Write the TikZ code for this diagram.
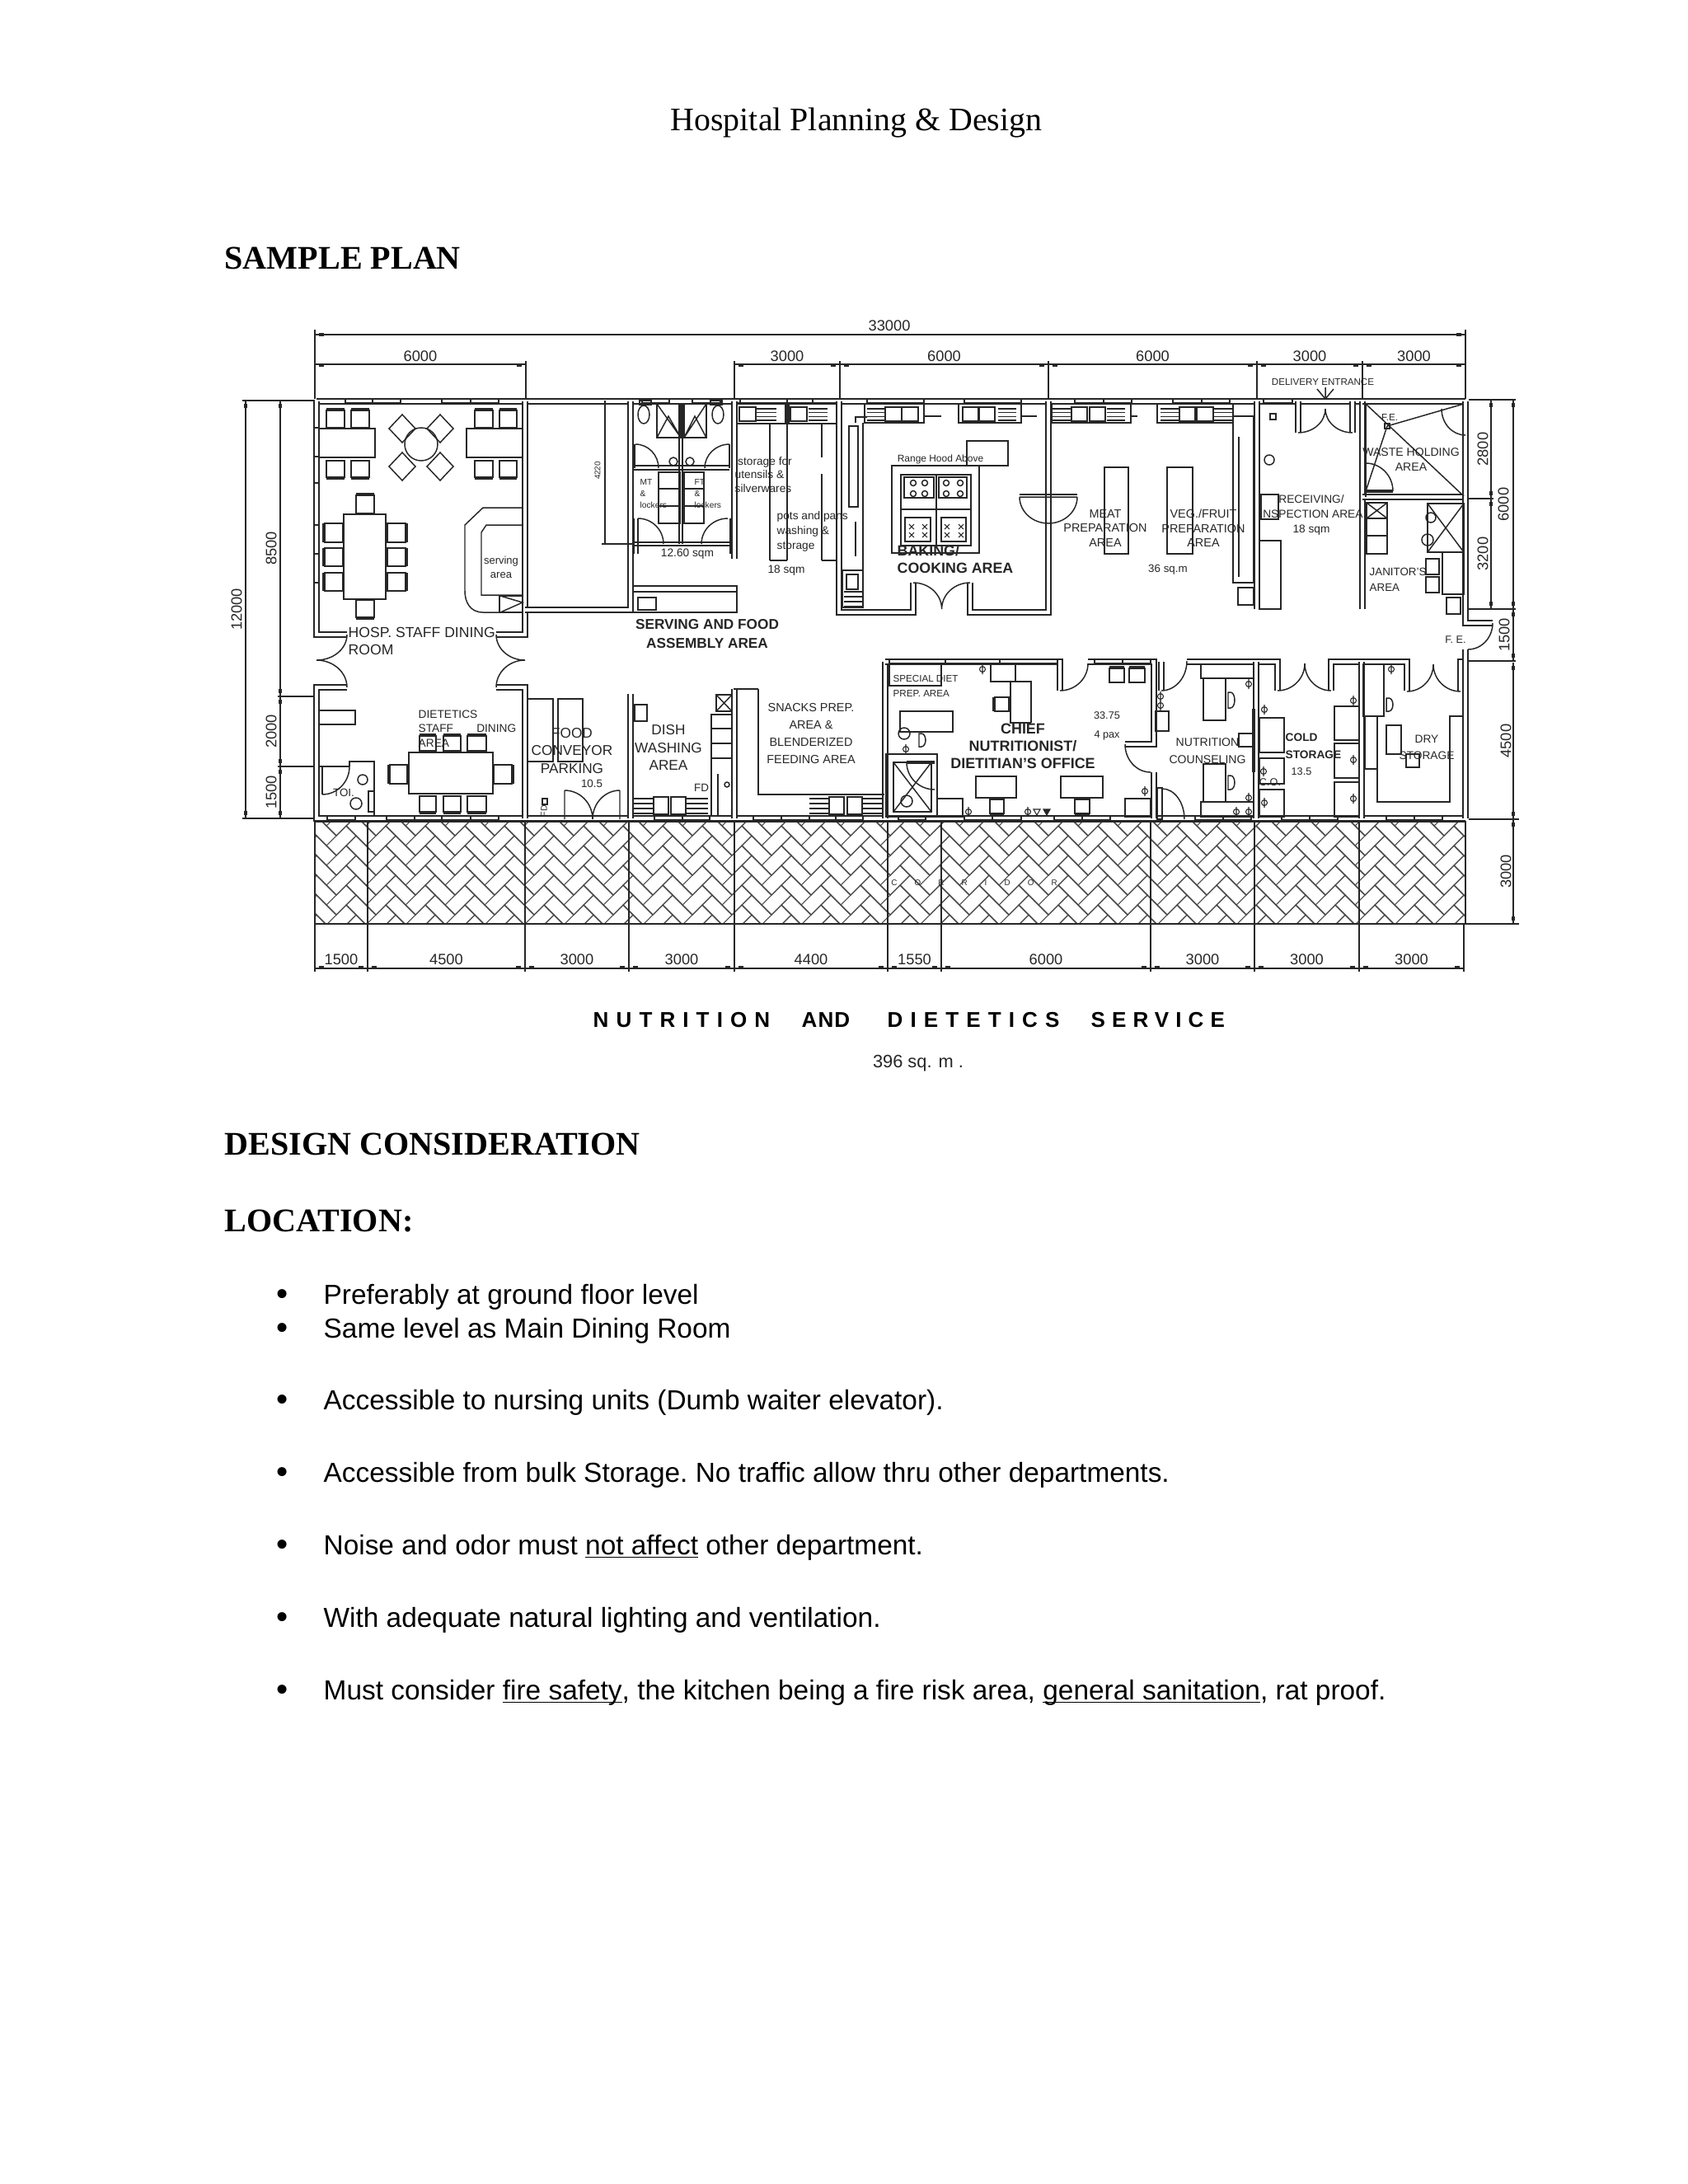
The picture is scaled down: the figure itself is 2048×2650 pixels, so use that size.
\documentclass[tikz,border=0pt]{standalone}
\usepackage{fontspec}
\setmainfont{Liberation Serif}
\setsansfont{Liberation Sans}
\definecolor{ink}{HTML}{262626}
\newsavebox\rulebox
\newcommand{\underrule}[1]{\sbox\rulebox{#1}\rlap{\rule[-1.2pt]{\wd\rulebox}{0.42pt}}\usebox\rulebox}
\newcommand{\itemdot}{\makebox[16.2pt][l]{\raisebox{-0.4pt}{\fontsize{11.5}{12}\selectfont\textbullet}}}
\tikzset{
  wall/.style={draw=ink,line width=0.48pt,double=white,double distance=1.35pt},
  fix/.style={draw=ink,line width=0.42pt},
  thin line/.style={draw=ink,line width=0.3pt},
  brick/.style={draw=ink!85,line width=0.31pt},
  dimline/.style={draw=ink,line width=0.4pt},
  dimtick/.style={draw=ink,line width=1pt},
  tag/.style args={#1/#2}{font=\sffamily\fontsize{#1}{#2}\selectfont,text=ink,align=center},
  boldtag/.style args={#1/#2}{font=\sffamily\bfseries\fontsize{#1}{#2}\selectfont,text=ink,align=center},
  heading/.style={font=\rmfamily\bfseries\fontsize{11.4}{13}\selectfont,anchor=base west},
  bodyline/.style={font=\sffamily\fontsize{9.5}{11}\selectfont\frenchspacing,anchor=base west},
  spaced/.style={font=\sffamily\bfseries\fontsize{7.4}{9}\selectfont\addfontfeature{LetterSpace=#1},anchor=west}
}
\begin{document}
\begin{tikzpicture}[x=0.01cm,y=0.01cm]
    \tikzstyle{every node}+=[inner sep=0pt]
    \useasboundingbox (0,0) rectangle (2048,-2650);
    \draw (1039,-149) node [font=\rmfamily\fontsize{11.33}{13}\selectfont] (pagetitle) {Hospital Planning \& Design};
    \draw (272,-326) node [heading] (sampleplan) {SAMPLE PLAN};
    \begin{scope}
        \clip (382,-997) rectangle (1778,-1121);
        \foreach \i in {0,...,31}
            \foreach \j in {0,...,8}
                \draw [brick,shift={({324+48*\i},{-954-24*\j})}] (0,0) -- (24,-24) -- (36,-12) -- (12,12) -- cycle (24,-24) -- (36,-36) -- (60,-12) -- (48,0) -- cycle;
    \end{scope}
    \draw [fix] (382,-997) rectangle (1778,-1121);
    \foreach \xa in {446,637,763,891,1077,1142,1396,1522,1649}
        \draw [dimline] (\xa,-997) -- (\xa,-1179);
    \foreach \xa in {382,1776}
        \draw [dimline] (\xa,-1121) -- (\xa,-1179);
    \foreach \xa/\xb/\len in {382/446/1500,446/637/4500,637/763/3000,763/891/3000,891/1077/4400,1077/1142/1550,1142/1396/6000,1396/1522/3000,1522/1649/3000,1649/1776/3000} {
        \draw [dimline] (\xa,-1175) -- (\xb,-1175);
        \draw [dimtick] ({\xa+5},-1174) -- ({\xa+11},-1174) ({\xb-11},-1174) -- ({\xb-5},-1174);
        \draw ({(\xa+\xb)/2},-1164) node [tag=5.2/6] {\len};
    }
    \foreach \xa/\xb/\len in {382/638/6000,891/1019/3000,1019/1272/6000,1272/1525/6000,1525/1653/3000,1653/1778/3000} {
        \draw [dimline] (\xa,-442) -- (\xb,-442);
        \draw [dimtick] ({\xa+5},-443) -- ({\xa+11},-443) ({\xb-11},-443) -- ({\xb-5},-443);
        \draw ({(\xa+\xb)/2},-432) node [tag=5.2/6] {\len};
    }
    \foreach \xa in {638,891,1019,1272,1525,1653}
        \draw [dimline] (\xa,-438) -- (\xa,-484);
    \draw [dimline] (382,-400) -- (382,-484) (1778,-400) -- (1778,-484) (382,-406) -- (1778,-406);
    \draw [dimtick] (387,-406) -- (393,-406) (1767,-406) -- (1773,-406);
    \draw (1079,-395) node [tag=5.2/6] (overall) {33000};
    \foreach \xa/\ya/\yb/\len/\xt in {298/486/993/12000/287,340/486/845/8500/329,340/845/930/2000/329,340/930/993/1500/329,1809/485/605/2800/1799,1809/605/739/3200/1799,1836/485/739/6000/1824,1836/739/802/1500/1825,1836/804/994/4500/1827,1836/994/1121/3000/1827} {
        \draw [dimline] (\xa,-\ya) -- (\xa,-\yb);
        \draw [dimtick] (\xa,{-\ya-4}) -- (\xa,{-\ya-9}) (\xa,{-\yb+4}) -- (\xa,{-\yb+9});
        \draw (\xt,{-(\ya+\yb)/2}) node [tag=5.2/6,rotate=90] {\len};
    }
    \foreach \xa/\ya/\xb in {294/486/382,337/845/381,337/930/381,294/993/382,1782/485/1839,1782/605/1812,1782/739/1839,1782/802/1839,1782/994/1843,1778/1121/1843}
        \draw [dimline] (\xa,-\ya) -- (\xb,-\ya);
    \draw [wall] (384,-487) -- (1778,-487);
    \draw [wall] (421,-770) -- (384,-770) -- (384,-487);
    \draw [wall] (602,-770) -- (637,-770) -- (637,-487);
    \draw [wall] (637,-740) -- (765,-740) -- (765,-487);
    \draw [wall] (421,-834) -- (384,-834) -- (384,-993) -- (1778,-993);
    \draw [wall] (602,-834) -- (637,-834) -- (637,-993);
    \draw [wall] (765,-842) -- (765,-993);
    \draw [wall] (891,-836) -- (891,-993);
    \draw [wall] (1074,-803) -- (1074,-993);
    \draw [wall] (1286,-838) -- (1286,-803) -- (1074,-803);
    \draw [wall] (1320,-803) -- (1400,-803) -- (1400,-903) -- (1365,-903);
    \draw [wall] (1400,-937) -- (1400,-993);
    \draw [wall] (1409,-838) -- (1409,-803);
    \draw [wall] (1440,-803) -- (1550,-803) -- (1550,-838);
    \draw [wall] (1524,-803) -- (1524,-993);
    \draw [wall] (1615,-838) -- (1615,-803) -- (1707,-803) -- (1707,-838);
    \draw [wall] (1652,-803) -- (1652,-993);
    \draw [wall] (1772,-838) -- (1772,-803) -- (1778,-803);
    \draw [wall] (1778,-788) -- (1778,-993);
    \draw [wall] (891,-487) -- (891,-678);
    \draw [wall] (1018,-487) -- (1018,-743) -- (1108,-743) -- (1108,-707);
    \draw [wall] (1177,-707) -- (1177,-743) -- (1272,-743) -- (1272,-487);
    \draw [wall] (1525,-487) -- (1525,-739);
    \draw [wall] (1653,-487) -- (1653,-739);
    \draw [wall] (1653,-603) -- (1778,-603);
    \draw [wall] (1778,-487) -- (1778,-756) -- (1811,-756);
    \draw [wall] (1575,-525) -- (1575,-487) (1641,-525) -- (1641,-487);
    \draw [fix] (769,-565) -- (885,-565) (769,-570) -- (885,-570) (770,-658) -- (885,-658) (770,-662) -- (885,-662);
    \draw [fix] (824,-490) -- (824,-660) (828,-490) -- (828,-660);
    \draw [fix] (770,-539) -- (770,-568) (885,-539) -- (885,-568) (769,-629) -- (769,-672) (774,-629) -- (774,-672) (886,-629) -- (886,-672);
    \foreach \xa/\ya/\xb in {419/484/452,452/484/486,536/484/571,571/484/605,779/484/812,840/484/874,898/484/955,955/484/986,1052/484/1121,1170/484/1239,1304/484/1339,1339/484/1373,1423/484/1458,1458/484/1492,1533/484/1568,397/990/431,469/990/503,503/990/536,536/990/571,571/990/605,794/990/828,828/990/861,914/990/948,948/990/982,982/990/1014,1014/990/1047,1090/990/1123,1170/990/1204,1204/990/1239,1279/990/1313,1313/990/1347,1450/990/1484,1484/990/1518,1555/990/1589,1589/990/1623,1682/990/1716,1716/990/1750,1079/800/1147,1147/800/1213,1213/800/1283,1328/800/1362,1362/800/1396}
        \draw [fix] (\xa,-\ya) rectangle (\xb,{-\ya-5});
    \foreach \ya/\yb in {519/554,554/586,637/672,672/707}
        \draw [fix] (381,-\ya) rectangle (387,-\yb);
    \foreach \xa/\ya/\xb/\yb in {387/520/455/555,396/498/418/519,426/498/448/519,396/559/418/579,426/559/448/579,566/520/634/555,576/498/598/519,606/498/627/519,576/559/598/579,606/559/627/579,417/624/468/727,432/601/454/623,432/728/454/749,394/635/416/658,394/665/416/687,394/695/416/717,470/635/492/658,470/665/492/687,470/695/492/717,606/723/634/743,387/862/431/879,496/913/598/963,509/893/529/911,538/893/559/911,567/893/590/911,509/966/529/985,538/966/559/985,567/966/590/985,473/928/494/951,599/928/621/951,640/848/671/924,677/848/707/924,797/490/826/531,830/490/857/531,799/573/825/593,799/593/825/614,799/614/825/635,830/573/854/593,830/593/854/614,830/614/854/635,776/486/790/491,862/486/876/491,768/711/894/743,774/725/796/740,894/489/953/514,957/489/1015/514,897/494/917/511,959/494/979/511,1049/490/1121/513,1163/490/1239/513,1276/490/1372/513,1404/490/1496/513,1074/494/1094/511,1094/494/1114/511,1168/494/1187/511,1188/494/1207/511,1300/494/1319/511,1322/494/1341/511,1431/494/1450/511,1452/494/1472/511,793/967/811/988,814/967/832/988,1006/967/1024/988,1028/967/1046/988,1022/692/1047/737,1027/697/1041/715,1082/565/1188/671,1093/576/1136/618,1136/576/1178/618,1093/618/1136/662,1136/618/1178/662,1097/579/1133/604,1139/579/1173/604,1098/628/1129/657,1142/628/1172/657,1173/535/1223/565,1340/567/1369/672,1416/567/1447/672,1496/505/1521/707,1502/713/1521/734,1528/656/1554/739,770/855/785/875,869/843/888/863,863/867/888/920,863/884/888/902,1530/600/1551/630,1658/610/1683/629,1658/629/1683/650,1658/650/1683/672,1732/611/1776/670,1730/678/1746/697,1730/700/1746/719,1750/670/1776/721,1755/725/1772/745,1541/502/1548/509,1079/806/1142/832,1092/863/1156/888,1207/846/1224/863,1184/942/1233/968,1287/942/1338/968,1201/970/1218/987,1304/970/1322/987,1137/969/1168/991,1365/969/1396/991,1346/811/1364/828,1370/811/1389/828,1402/863/1418/887,1457/806/1521/823,1460/823/1487/874,1457/973/1521/991,1460/927/1487/973,1503/890/1520/906,1528/871/1558/913,1528/920/1558/951,1528/958/1558/991,1619/857/1649/898,1619/902/1649/944,1619/949/1649/991,1654/806/1679/869,1656/869/1671/933,1682/880/1700/915,1706/915/1722/931,1075/915/1137/991,1084/925/1130/985,1030/517/1041/615}
        \draw [fix] (\xa,-\ya) rectangle (\xb,-\yb);
    \foreach \xa/\xb/\ya in {396/418/496,426/448/496,576/598/496,606/627/496,396/418/581,426/448/581,576/598/581,606/627/581,432/454/599,432/454/751,509/529/891,538/559/891,567/590/891,509/529/987,538/559/987,567/590/987,1346/1364/809,1370/1389/809,1201/1218/989,1304/1322/989}
        \draw [thin line] (\xa,-\ya) -- (\xb,-\ya);
    \foreach \xa/\ya/\yb in {392/635/658,392/665/687,392/695/717,494/635/658,494/665/687,494/695/717,471/928/951,623/928/951,1205/846/863}
        \draw [thin line] (\xa,-\ya) -- (\xa,-\yb);
    \foreach \xa/\xb/\ya/\yb in {918/942/496/510,981/1004/496/510,1052/1074/496/510,1211/1233/496/510,1276/1299/496/510,1343/1365/496/510,1408/1430/496/510,1472/1496/496/510,769/793/969/987,833/859/969/987,982/1006/969/987,1047/1072/969/987,1024/1046/718/736}
        \foreach \k in {0,1,2,3}
            \draw [thin line] (\xa,{-\ya-(\yb-\ya)*\k/3}) -- (\xb,{-\ya-(\yb-\ya)*\k/3});
    \draw [fix] (768,-718) -- (894,-718);
    \draw [fix] (934,-514) -- (934,-680) (955,-489) -- (955,-680) (934,-680) -- (955,-680);
    \draw [fix] (997,-514) -- (997,-555) (997,-575) -- (997,-680) (997,-680) -- (1015,-680);
    \draw [fix] (1038,-513) -- (1038,-506) -- (1052,-506) (1047,-513) -- (1047,-737) (1038,-633) -- (1038,-675);
    \draw [fix] (1121,-505) -- (1142,-505) (1239,-505) -- (1258,-505) (1373,-505) -- (1380,-505);
    \draw [fix] (1503,-530) -- (1503,-700);
    \draw [fix] (1653,-490) -- (1657,-490) (1657,-490) -- (1657,-603);
    \draw [fix] (1657,-490) -- (1776,-602) (1657,-596) -- (1683,-517) -- (1776,-490);
    \draw [fix] (1680,-514) rectangle (1686,-520);
    \draw [fix] (797,-490) -- (826,-531) (797,-531) -- (811,-505) -- (826,-531) (857,-490) -- (830,-531) (857,-531) -- (843,-505) -- (830,-531);
    \draw [dimtick] (1657,-596) -- (1690,-596);
    \draw [fix] (586,-743) .. controls (570,-743) and (564,-730) .. (564,-717) -- (564,-637) -- (586,-616) -- (634,-616);
    \draw [fix] (586,-743) -- (634,-743) (634,-637) -- (590,-637) -- (584,-646) -- (584,-722) -- (634,-722);
    \draw [fix] (607,-723) -- (634,-731) -- (607,-743);
    \draw [fix] (424,-930) -- (387,-930) (391,-930) -- (391,-964);
    \draw [fix] (424,-930) -- (424,-924) -- (454,-924) -- (454,-990) (447,-960) rectangle (454,-985);
    \draw [fix] (863,-920) -- (863,-990) (871,-939) -- (871,-990);
    \draw [fix] (920,-836) -- (890,-836) (920,-836) -- (920,-964) -- (1073,-964);
    \draw [fix] (1202,-806) -- (1202,-827) -- (1251,-827) -- (1251,-877) (1226,-827) -- (1226,-877) -- (1251,-877) (1232,-806) -- (1232,-827);
    \draw [fix] (1671,-869) -- (1671,-973) -- (1759,-973) -- (1759,-869) -- (1775,-869);
    \draw [fix] (1075,-915) -- (1137,-915) (1084,-925) -- (1130,-985) (1084,-985) -- (1130,-925);
    \draw [dimtick] (1100,-925) -- (1134,-925) (1521,-860) -- (1521,-937);
    \draw [fix] (1732,-611) -- (1776,-670) (1732,-670) -- (1776,-611);
    \draw [fix] (1658,-610) -- (1683,-629) (1658,-629) -- (1683,-610);
    \draw [fix] (869,-843) -- (888,-863) (869,-863) -- (888,-843);
    \draw [fix] (1404,-956) rectangle (1410,-994);
    \foreach \x/\y/\r in {511/539/20,1108/586/3.5,1122/586/3.5,1108/599/3.5,1122/599/3.5,1148/586/3.5,1165/586/3.5,1148/599/3.5,1165/599/3.5,817/560/5,837/560/5,1540/558/6,440/946/6,432/975/7,882/952/3,1736/628/6,1732/655/7,1100/972/7,1097/890/7}
        \draw [fix] (\x,-\y) circle (\r);
    \foreach \x/\y in {781/503,871/503}
        \draw [fix] (\x,-\y) ellipse (7 and 11);
    \foreach \x/\y in {488/520,534/520,488/566,534/566}
        \draw [fix] (\x,{-\y+17}) -- ({\x+16},-\y) -- (\x,{-\y-17}) -- ({\x-16},-\y) -- cycle;
    \foreach \x/\y in {1106/639,1122/639,1106/649,1122/649,1149/639,1166/639,1149/649,1166/649}
        \draw [thin line] ({\x-3},{-\y-3}) -- ({\x+3},{-\y+3}) ({\x-3},{-\y+3}) -- ({\x+3},{-\y-3});
    \foreach \x/\y in {1192/812,1099/909,1175/985,1247/985,1389/960,1408/845,1408/856,1515/830,1534/861,1533/936,1515/968,1534/974,1515/985,1500/985,1642/850,1642/922,1642/969,1688/812}
        \draw [thin line] (\x,-\y) circle (3.5) (\x,{-\y+6}) -- (\x,{-\y-6});
    \foreach \x/\y/\h in {1490/840/9.5,1490/941/8.5,1682/847/8,1115/890/8}
        \draw [fix] (\x,-\y) -- ++(3,0) arc (90:-90:5 and \h) -- ++(-3,0) -- cycle;
    \draw [thin line] (1254,-982) -- (1262,-982) -- (1258,-989) -- cycle;
    \draw [fill=ink,thin line] (1266,-982) -- (1274,-982) -- (1270,-989) -- cycle;
    \draw [fix] (421,-770) arc (0:-90:37 and 31) (421,-834) arc (0:90:37 and 33);
    \draw [fix] (602,-770) arc (180:270:35 and 31) (602,-834) arc (180:90:35 and 33);
    \draw [fix] (771,-539) arc (90:0:28 and 29) (885,-539) arc (90:180:30 and 29);
    \draw [fix] (774,-629) arc (90:0:31 and 31) (883,-629) arc (90:180:32 and 31);
    \draw [fix] (1108,-707) arc (90:0:34.6 and 32) (1177,-707) arc (90:180:34.4 and 32);
    \draw [fix] (1237,-603) arc (180:360:35 and 32) (1237,-603) -- (1307,-603);
    \draw [fix] (1237,-600) -- (1307,-600);
    \draw [fix] (1575,-525) arc (-90:0:33 and 29) (1641,-525) arc (270:180:33 and 29);
    \draw [fix] (1749,-496) arc (180:270:29 and 32) (1690,-596) arc (0:90:33 and 34);
    \draw [fix] (1811,-756) arc (0:-90:30 and 32);
    \draw [fix] (1286,-838) arc (-90:0:34 and 33) (1409,-838) arc (-90:0:31 and 36);
    \draw [fix] (1365,-903) arc (180:270:31 and 34) (1410,-957) arc (90:0:27 and 37);
    \draw [fix] (1550,-838) arc (-90:0:33 and 33) (1615,-838) arc (270:180:32 and 33);
    \draw [fix] (1707,-839) arc (-90:0:32 and 33) (1772,-839) arc (270:180:33 and 33);
    \draw [fix] (685,-959) arc (90:0:34 and 35) (752,-959) arc (90:180:33 and 35) (685,-959) -- (685,-994) (752,-959) -- (752,-994);
    \draw [fix] (424,-930) arc (0:-90:33 and 34) (1100,-925) arc (180:270:34 and 33);
    \draw [fix] (1608,-482) -- (1608,-470) (1598,-472) -- (1608,-484) -- (1618,-472);
    \draw [dimline] (734,-486) -- (734,-660) (730,-660) -- (769,-660);
    \draw [fix] (658,-969) rectangle (664,-976);
    \draw (725,-571) node [tag=2.8/3.5,rotate=90] (lengthmark) {4220};
    \draw (422,-778) node [tag=5/6,align=left,anchor=west] (staffdining) {HOSP. STAFF DINING\\ROOM};
    \draw (608,-688) node [tag=3.7/4.9] (servingarea) {serving\\area};
    \draw (891,-576) node [tag=3.9/4.7,align=left,anchor=west] (storagefor) {\hspace{1pt}storage for\\utensils \&\\silverwares};
    \draw (942,-645) node [tag=3.9/5,align=left,anchor=west] (potspans) {pots and pans\\washing \&\\storage};
    \draw (954,-692) node [tag=3.9/5] (storagearea) {18 sqm};
    \draw (834,-672) node [tag=3.9/5] (toiletarea) {12.60 sqm};
    \draw (776,-599) node [tag=2.9/4,align=left,anchor=west] (mtlockers) {MT\\\&\\lockers};
    \draw (842,-599) node [tag=2.9/4,align=left,anchor=west] (ftlockers) {FT\\\&\\lockers};
    \draw (858,-769) node [boldtag=4.9/6.3] (assembly) {SERVING AND FOOD\\ASSEMBLY AREA};
    \draw (507,-884) node [tag=3.9/5,align=left,anchor=west] (staffarea) {DIETETICS\\STAFF\hspace{8pt}DINING\\AREA};
    \draw (694,-911) node [tag=4.9/6.1] (conveyor) {FOOD\\CONVEYOR\\PARKING};
    \draw (718,-951) node [tag=3.8/5] (conveyorarea) {10.5};
    \draw (417,-962) node [tag=3.8/5] (toilet) {TOI.};
    \draw (811,-907) node [tag=4.9/6] (dishwashing) {DISH\\WASHING\\AREA};
    \draw (851,-956) node [tag=3.8/5] (floordrain) {FD};
    \draw (660,-984) node [tag=3/4,rotate=90] (fdmark) {FD};
    \draw (984,-890) node [tag=4.1/6] (snacks) {SNACKS PREP.\\AREA \&\\BLENDERIZED\\FEEDING AREA};
    \draw (1088,-679) node [boldtag=5.07/6,align=left,anchor=west] (baking) {BAKING/\\COOKING AREA};
    \draw (1141,-557) node [tag=3.4/4] (rangehood) {Range Hood Above};
    \draw (1341,-641) node [tag=4.1/5] (meat) {MEAT\\PREPARATION\\AREA};
    \draw (1460,-641) node [tag=4.1/5] (vegfruit) {VEG./FRUIT\\PREPARATION\\AREA};
    \draw (1417,-691) node [tag=3.8/5] (prepsize) {36 sq.m};
    \draw (1605,-463) node [tag=3.3/4] (delivery) {DELIVERY ENTRANCE};
    \draw (1686,-506) node [tag=3.3/4] (extinguisher) {F.E.};
    \draw (1712,-558) node [tag=4/5.1] (waste) {WASTE HOLDING\\AREA};
    \draw (1591,-625) node [tag=3.9/5.2] (receiving) {RECEIVING/\\INSPECTION AREA\\18 sqm};
    \draw (1661,-703) node [tag=3.8/5.4,align=left,anchor=west] (janitor) {JANITOR'S\\AREA};
    \draw (1766,-776) node [tag=3.6/5] (extinguishertwo) {F. E.};
    \draw (1083,-832) node [tag=3.3/5.1,align=left,anchor=west] (specialdiet) {SPECIAL DIET\\PREP. AREA};
    \draw (1241,-905) node [boldtag=5.1/6] (chief) {CHIEF\\NUTRITIONIST/\\DIETITIAN'S OFFICE};
    \draw (1343,-881) node [tag=3.6/6.5] (chiefsize) {33.75\\4 pax};
    \draw (1465,-911) node [tag=4/6] (counseling) {NUTRITION\\COUNSELING};
    \draw (1559,-905) node [boldtag=3.9/6,align=left,anchor=west] (cold) {COLD\\STORAGE};
    \draw (1579,-936) node [tag=3.6/5] (coldsize) {13.5};
    \draw (1541,-949) node [tag=3.6/5] (coldcorner) {C.O.};
    \draw (1731,-907) node [tag=3.9/5.7] (drystorage) {DRY\\STORAGE};
    \draw (1182,-1071) node [tag=2.8/4] (corridor) {C\hspace{6pt}O\hspace{6pt}R\hspace{6pt}R\hspace{6pt}I\hspace{6pt}D\hspace{6pt}O\hspace{6pt}R};
    \draw (719,-1238) node [spaced=35] (titleone) {NUTRITION};
    \draw (972,-1238) node [spaced=4] (titletwo) {AND};
    \draw (1076,-1238) node [spaced=35] (titlethree) {DIETETICS};
    \draw (1323,-1238) node [spaced=31] (titlefour) {SERVICE};
    \draw (1114,-1290) node [tag=6.2/7] (planarea) {396 sq. m .};
    \draw (272,-1401) node [heading] (designhead) {DESIGN CONSIDERATION};
    \draw (272,-1494) node [heading] (locationhead) {LOCATION:};
    \draw (335,-1582) node [bodyline] (itemone) {\itemdot Preferably at ground floor level};
    \draw (335,-1623) node [bodyline] (itemtwo) {\itemdot Same level as Main Dining Room};
    \draw (335,-1710) node [bodyline] (itemthree) {\itemdot Accessible to nursing units (Dumb waiter elevator).};
    \draw (335,-1798) node [bodyline] (itemfour) {\itemdot Accessible from bulk Storage. No traffic allow thru other departments.};
    \draw (335,-1886) node [bodyline] (itemfive) {\itemdot Noise and odor must \underrule{not affect} other department.};
    \draw (335,-1974) node [bodyline] (itemsix) {\itemdot With adequate natural lighting and ventilation.};
    \draw (335,-2062) node [bodyline] (itemseven) {\itemdot Must consider \underrule{fire safety}, the kitchen being a fire risk area, \underrule{general sanitation}, rat proof.};
\end{tikzpicture}
\end{document}
